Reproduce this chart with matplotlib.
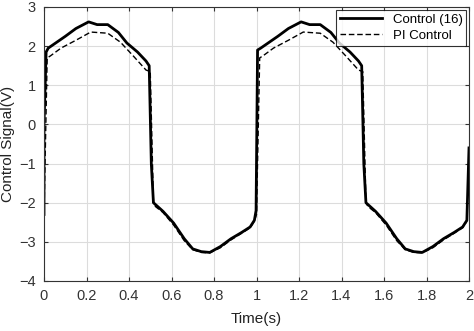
import matplotlib
matplotlib.use('Agg')
import matplotlib.pyplot as plt

plt.rcParams['font.family'] = ['Liberation Sans', 'DejaVu Sans']

# Control (16) signal
t_ctrl = [0.0, 0.0, 0.01, 0.02, 0.06, 0.10, 0.15, 0.21, 0.25, 0.30, 0.35, 0.39, 0.44, 0.48, 0.495,
          0.505, 0.515, 0.56, 0.61, 0.66, 0.70, 0.74, 0.78, 0.83, 0.88, 0.93, 0.97, 0.99, 0.998,
          1.005, 1.02, 1.06, 1.10, 1.15, 1.21, 1.25, 1.30, 1.35, 1.39, 1.44, 1.48, 1.495,
          1.505, 1.515, 1.56, 1.61, 1.66, 1.70, 1.74, 1.78, 1.83, 1.88, 1.93, 1.97, 1.99, 2.0]
v_ctrl = [-2.3, 0.0, 1.85, 1.95, 2.1, 2.25, 2.45, 2.62, 2.55, 2.55, 2.35, 2.08, 1.85, 1.62, 1.5,
          -1.0, -2.0, -2.22, -2.52, -2.92, -3.18, -3.25, -3.27, -3.12, -2.92, -2.76, -2.62, -2.45, -2.2,
          1.9, 1.95, 2.1, 2.25, 2.45, 2.62, 2.55, 2.55, 2.35, 2.08, 1.85, 1.62, 1.5,
          -1.0, -2.0, -2.22, -2.52, -2.92, -3.18, -3.25, -3.27, -3.12, -2.92, -2.76, -2.62, -2.45, -0.6]

# PI Control signal
t_pi = [0.0, 0.015, 0.03, 0.08, 0.15, 0.22, 0.30, 0.36, 0.42, 0.48, 0.50,
        0.515, 0.525, 0.56, 0.61, 0.66, 0.70, 0.74, 0.78, 0.83, 0.88, 0.93, 0.97, 0.99, 1.0,
        1.015, 1.03, 1.08, 1.15, 1.22, 1.30, 1.36, 1.42, 1.48, 1.50,
        1.515, 1.525, 1.56, 1.61, 1.66, 1.70, 1.74, 1.78, 1.83, 1.88, 1.93, 1.97, 1.99]
v_pi = [-2.3, 1.7, 1.75, 1.95, 2.15, 2.36, 2.33, 2.1, 1.75, 1.39, 1.35,
        -2.0, -2.1, -2.25, -2.57, -2.97, -3.2, -3.27, -3.28, -3.15, -2.95, -2.78, -2.64, -2.47, -2.3,
        1.7, 1.75, 1.95, 2.15, 2.36, 2.33, 2.1, 1.75, 1.39, 1.35,
        -2.0, -2.1, -2.25, -2.57, -2.97, -3.2, -3.27, -3.28, -3.15, -2.95, -2.78, -2.64, -2.47]

x_ticks = [0, 0.2, 0.4, 0.6, 0.8, 1, 1.2, 1.4, 1.6, 1.8, 2]
x_labels = ['0', '0.2', '0.4', '0.6', '0.8', '1', '1.2', '1.4', '1.6', '1.8', '2']
y_ticks = [-4, -3, -2, -1, 0, 1, 2, 3]

fig = plt.figure(figsize=(4.74, 3.31), dpi=100)
ax = fig.add_axes([44 / 474, 50 / 331, 425 / 474, 274 / 331])

ax.plot(t_ctrl, v_ctrl, color='black', lw=2.0, label='Control (16)')
ax.plot(t_pi, v_pi, color='black', lw=1.0, ls=(0, (4, 2)), label='PI Control')

ax.set_xlim(0, 2)
ax.set_ylim(-4, 3)
ax.set_xticks(x_ticks)
ax.set_xticklabels(x_labels)
ax.set_yticks(y_ticks)
ax.grid(True, color='#dcdcdc', lw=0.8)
ax.tick_params(direction='in', length=3, labelsize=10.5, colors='#333333', pad=6,
               top=True, right=True)
for s in ax.spines.values():
    s.set_color('#333333')
    s.set_linewidth(0.8)

ax.set_xlabel('Time(s)', fontsize=11, color='#222222', labelpad=6)
ax.set_ylabel('Control Signal(V)', fontsize=11, color='#222222', labelpad=3)

leg = ax.legend(loc='upper right', fontsize=9.5, frameon=True, fancybox=False,
                borderaxespad=0.2, handlelength=3.2, borderpad=0.3, labelspacing=0.3)
leg.get_frame().set_edgecolor('black')
leg.get_frame().set_linewidth(0.8)

fig.savefig('out.png', dpi=100)
